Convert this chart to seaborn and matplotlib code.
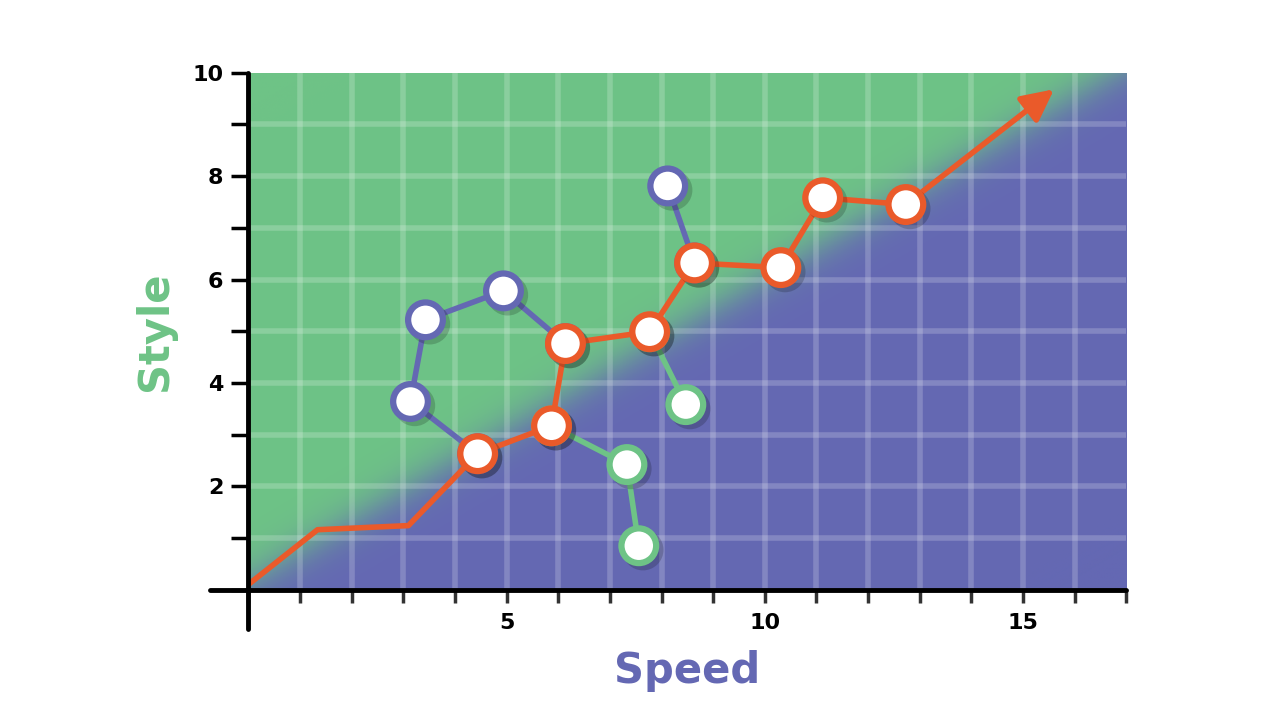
import numpy as np
import matplotlib
matplotlib.use('Agg')
import matplotlib.pyplot as plt
import matplotlib.patheffects as pe
import seaborn as sns

# ---- data ----
orange_x = [0.0, 1.34, 3.1, 4.44, 5.87, 6.14, 7.77, 8.64, 10.31, 11.12, 12.73, 15.4]
orange_y = [0.1, 1.16, 1.24, 2.63, 3.17, 4.76, 4.99, 6.32, 6.23, 7.58, 7.45, 9.55]
orange_pts = slice(3, 11)

blue_a_x = [6.14, 4.94, 3.43, 3.14, 4.44]
blue_a_y = [4.76, 5.78, 5.22, 3.64, 2.63]
blue_b_x = [8.12, 8.64]
blue_b_y = [7.81, 6.32]

green_a_x = [5.87, 7.33, 7.56]
green_a_y = [3.17, 2.42, 0.85]
green_b_x = [7.77, 8.47]
green_b_y = [4.99, 3.58]

GREEN = '#6ec386'
BLUE = '#6468b3'
ORANGE = '#ea5a2a'

sns.set_theme(style='white')
plt.rcParams['font.family'] = ['DejaVu Sans']

fig = plt.figure(figsize=(12.8, 7.2), dpi=100)
ax = fig.add_axes([0.194, 0.181, 0.686, 0.718])
ax.set_xlim(0, 17)
ax.set_ylim(0, 10)

# background: green above the diagonal, blue below, soft edge
gx, gy = np.meshgrid(np.linspace(0, 17, 600), np.linspace(0, 10, 400))
d = (gy - gx * 10 / 17 - 0.15)
t = 1 / (1 + np.exp(-d * 4.0))[..., None]
g = np.array(matplotlib.colors.to_rgb(GREEN))
b = np.array(matplotlib.colors.to_rgb(BLUE))
img = t * g + (1 - t) * b
ax.imshow(img, extent=[0, 17, 0, 10], origin='lower', aspect='auto', zorder=0)
for v in range(1, 17):
    ax.axvline(v, color='white', alpha=0.2, lw=4, zorder=1)
for v in range(1, 10):
    ax.axhline(v, color='white', alpha=0.2, lw=4, zorder=1)

shadow = [pe.SimpleLineShadow(offset=(3, -3), alpha=0.18, shadow_color='black'), pe.Normal()]


def draw(xs, ys, color, z):
    sns.lineplot(x=xs, y=ys, ax=ax, color=color, lw=4, sort=False,
                 estimator=None, zorder=z)
    ax.plot(xs, ys, color=color, linestyle='none', marker='o', markersize=25,
            markerfacecolor='white', markeredgewidth=4.5, zorder=z + 0.5,
            path_effects=shadow)


for xs, ys in [(blue_a_x, blue_a_y), (blue_b_x, blue_b_y)]:
    draw(xs, ys, BLUE, 3)
for xs, ys in [(green_a_x, green_a_y), (green_b_x, green_b_y)]:
    draw(xs, ys, GREEN, 3)

sns.lineplot(x=orange_x[:-1], y=orange_y[:-1], ax=ax, color=ORANGE, lw=4, sort=False,
             estimator=None, zorder=5)
ax.annotate('', xy=(orange_x[-1] + 0.2, orange_y[-1] + 0.13), xytext=(orange_x[-2], orange_y[-2]),
            arrowprops=dict(arrowstyle='-|>,head_length=1.6,head_width=0.8', color=ORANGE, lw=4,
                            shrinkA=0, shrinkB=0), zorder=5)
ax.plot(orange_x[orange_pts], orange_y[orange_pts], color=ORANGE, linestyle='none',
        marker='o', markersize=25, markerfacecolor='white', markeredgewidth=4.5,
        zorder=6, path_effects=shadow)

# axes styling
for s in ax.spines.values():
    s.set_visible(False)
ax.plot([-0.75, 17], [0, 0], color='black', lw=3.5, clip_on=False, zorder=7)
ax.plot([0, 0], [-0.77, 10], color='black', lw=3.5, clip_on=False, zorder=7)
ax.set_xticks(range(0, 18))
ax.set_xticklabels(['' if v % 5 or v == 0 else str(v) for v in range(18)])
ax.set_yticks(range(0, 11))
ax.set_yticklabels(['' if v % 2 or v == 0 else str(v) for v in range(11)])
ax.tick_params(axis='x', direction='out', length=9, width=2.5, color='#333333',
               labelsize=16, labelcolor='black', pad=8, bottom=True)
ax.tick_params(axis='y', direction='out', length=12, width=2.5, color='black',
               labelsize=16, labelcolor='black', pad=6, left=True)
for lab in ax.get_xticklabels() + ax.get_yticklabels():
    lab.set_fontweight('bold')
ax.set_xlabel('Speed', color=BLUE, fontsize=30, fontweight='bold', labelpad=12)
ax.set_ylabel('Style', color=GREEN, fontsize=30, fontweight='bold', labelpad=12)

fig.savefig('out.png', dpi=100, facecolor='white')
